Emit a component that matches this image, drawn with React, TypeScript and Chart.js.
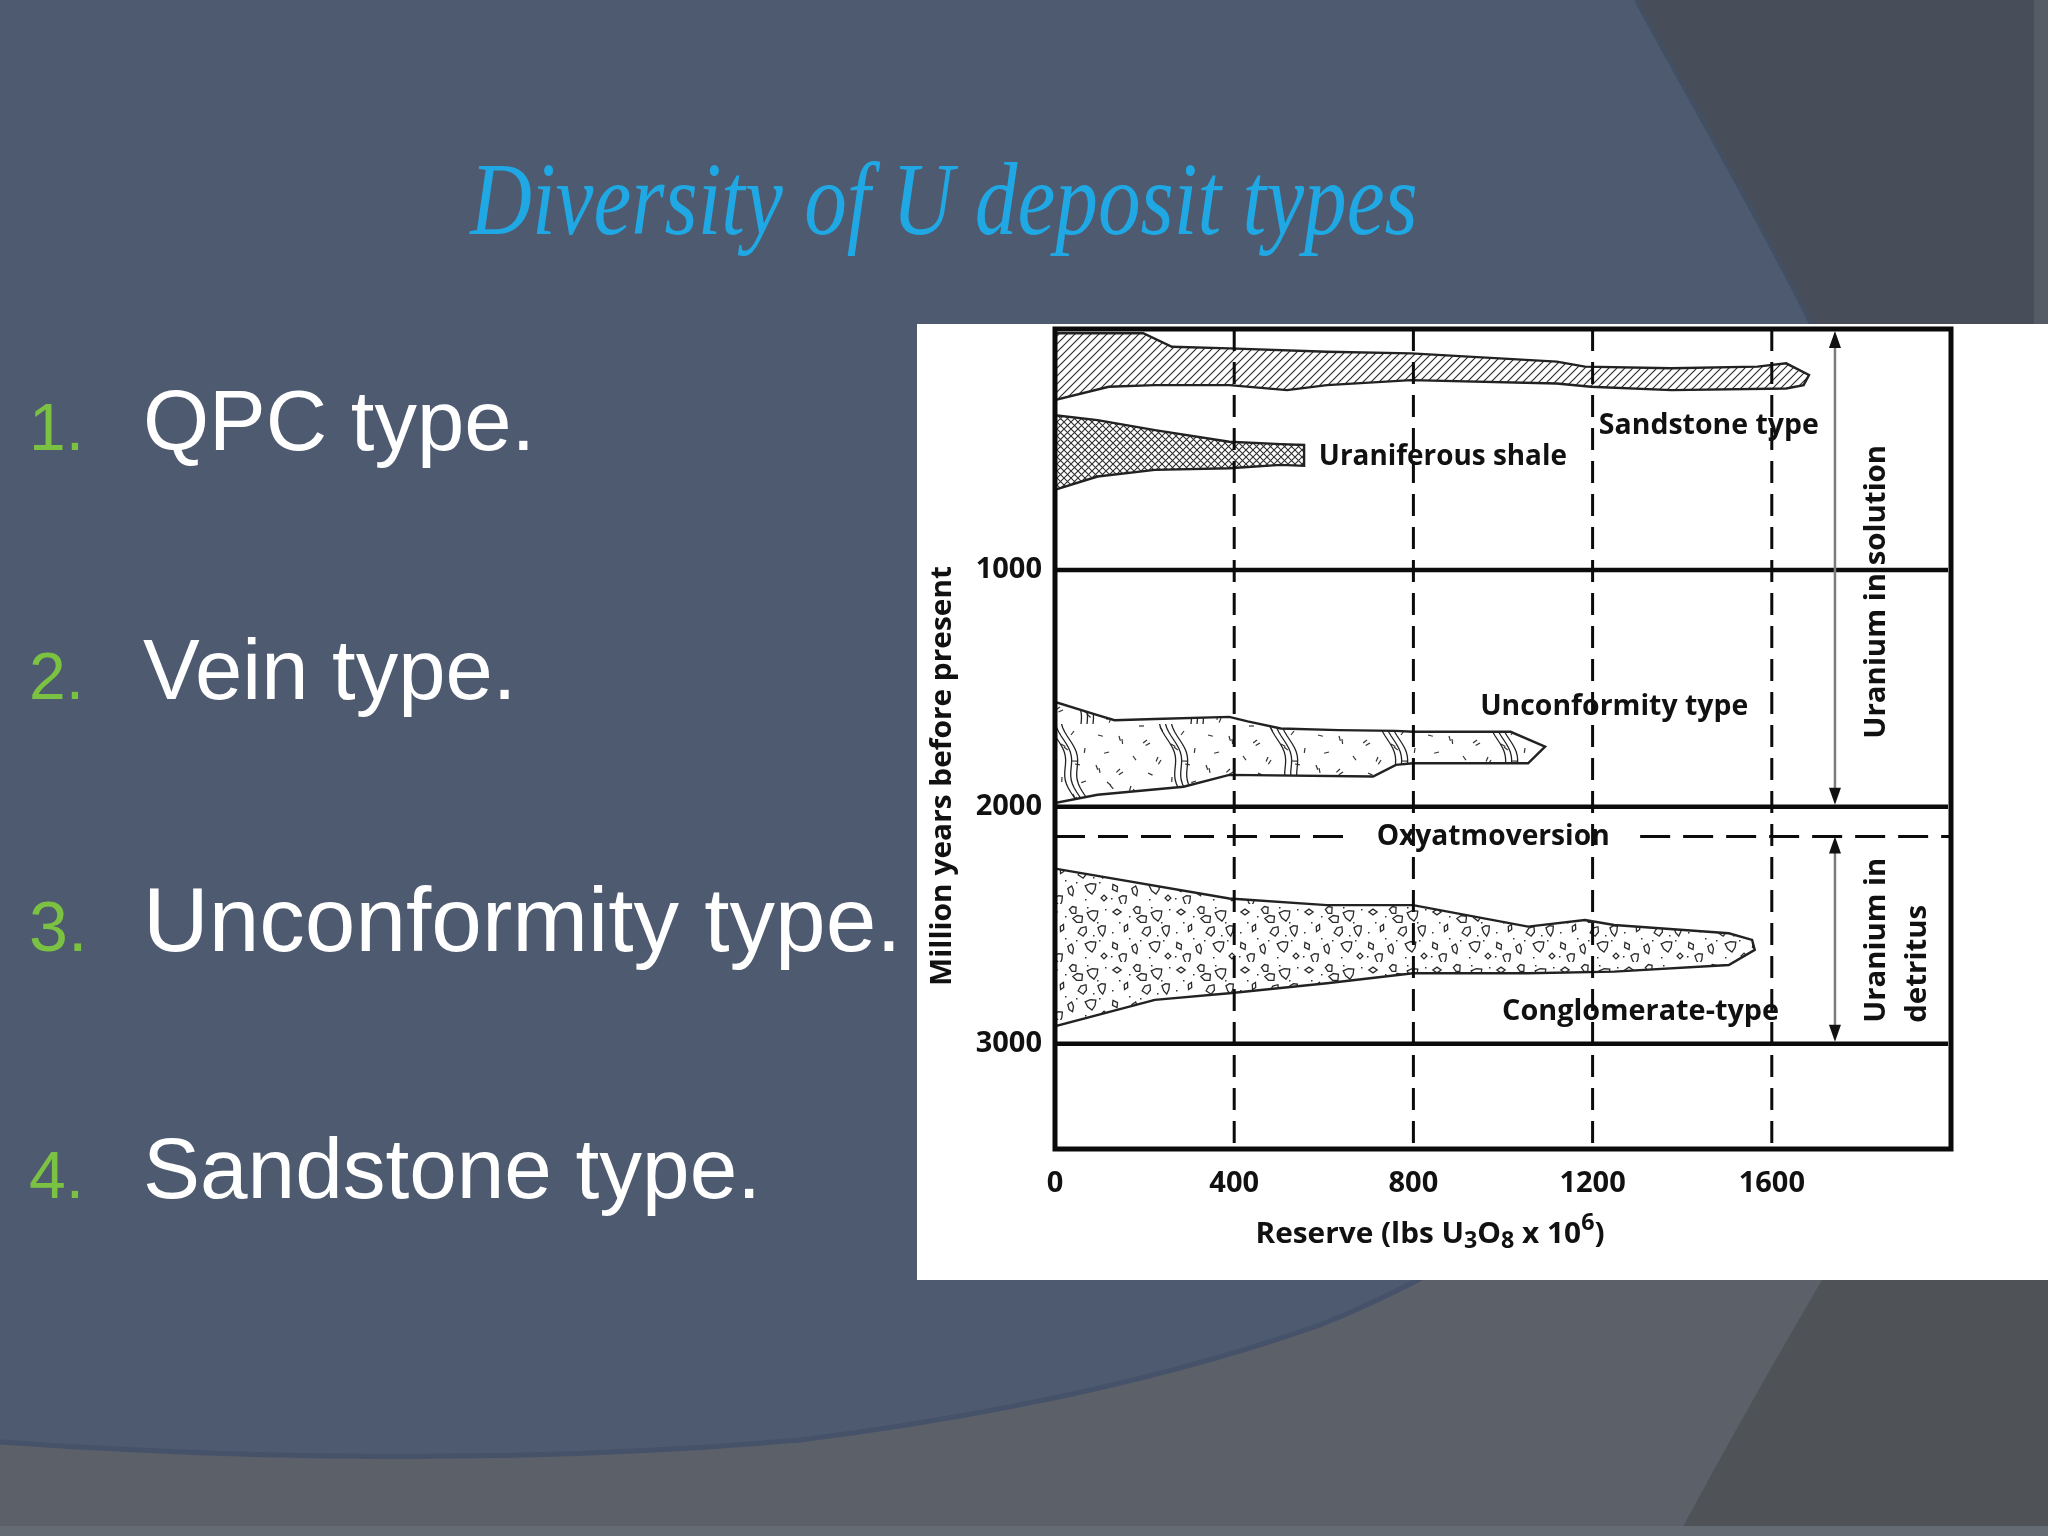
import React, { useEffect, useRef } from 'react';
import { Chart, registerables } from 'chart.js';

Chart.register(...registerables);

// ---------------- axes ----------------
const reserveTicks = [0, 400, 800, 1200, 1600];
const ageTicks = [1000, 2000, 3000];
const reserveMax = 2000;
const ageMin = -18;
const ageMax = 3445;
const oxyatmoversionAge = 2125;
const arrowReserve = 1741;
const solutionSpan = [0, 2000];
const detritusSpan = [2125, 3000];

// ---------------- deposit outlines (reserve 10^6 lbs U3O8, age Ma) ----------------
const sandstoneReserve = [0, 197, 261, 389, 607, 795, 1120, 1183, 1376, 1568, 1632, 1683, 1671, 1632, 1376, 1196, 1120, 795, 607, 518, 389, 223, 120, 0];
const sandstoneAge = [0, 0, 57, 64, 78, 85, 120, 141, 148, 141, 127, 176, 219, 233, 240, 226, 212, 198, 219, 240, 219, 219, 226, 282];

const shaleReserve = [0, 95, 223, 389, 504, 556, 556, 504, 389, 223, 95, 0];
const shaleAge = [346, 367, 409, 458, 468, 472, 560, 556, 570, 577, 605, 661];

const unconformityReserve = [0, 95, 133, 223, 389, 430, 504, 633, 761, 799, 1017, 1094, 1056, 799, 761, 710, 389, 287, 95, 0];
const unconformityAge = [1557, 1613, 1634, 1629, 1620, 1639, 1669, 1676, 1679, 1683, 1683, 1746, 1816, 1816, 1823, 1872, 1865, 1915, 1949, 1984];

const conglomerateReserve = [0, 389, 607, 799, 1056, 1183, 1248, 1504, 1556, 1562, 1504, 1248, 1056, 799, 607, 389, 223, 0];
const conglomerateAge = [2261, 2387, 2415, 2415, 2506, 2478, 2499, 2534, 2562, 2604, 2668, 2696, 2703, 2703, 2745, 2787, 2815, 2927];

const depositNames = ['Sandstone type', 'Uraniferous shale', 'Unconformity type', 'Conglomerate-type'];

// ---------------- slide text ----------------
const slideTitle = 'Diversity of U deposit types';
const listItems = ['QPC type.', 'Vein type.', 'Unconformity type.', 'Sandstone type.'];
const yAxisTitle = 'Million years before present';
const oxyLabel = 'Oxyatmoversion';
const solutionLabel = 'Uranium in solution';
const detritusLabel = ['Uranium in', 'detritus'];

// annotation anchors (data units) and target text widths (px)
const depositLabelLayout = [
  { x: 1214, y: 392, w: 220 },
  { x: 589, y: 522, w: 248 },
  { x: 949, y: 1579, w: 268 },
  { x: 998, y: 2866, w: 277 },
];

const FONT = '"Open Sans", "DejaVu Sans", sans-serif';

function makePattern(kind: string): CanvasPattern | string {
  const c = document.createElement('canvas');
  const g = c.getContext('2d');
  if (!g) return '#fff';
  if (kind === 'hatch') {
    c.width = 8; c.height = 8;
    g.fillStyle = '#fff'; g.fillRect(0, 0, 8, 8);
    g.strokeStyle = '#2e2e2e'; g.lineWidth = 1.2;
    g.beginPath();
    g.moveTo(-1, 9); g.lineTo(9, -1);
    g.moveTo(-1, 1); g.lineTo(1, -1);
    g.moveTo(7, 9); g.lineTo(9, 7);
    g.stroke();
  } else if (kind === 'cross') {
    c.width = 7; c.height = 7;
    g.fillStyle = '#fff'; g.fillRect(0, 0, 7, 7);
    g.strokeStyle = '#2e2e2e'; g.lineWidth = 1.1;
    g.beginPath();
    g.moveTo(-1, 8); g.lineTo(8, -1);
    g.moveTo(-1, -1); g.lineTo(8, 8);
    g.stroke();
  } else if (kind === 'vein') {
    c.width = 110; c.height = 100;
    g.fillStyle = '#fff'; g.fillRect(0, 0, 110, 100);
    g.strokeStyle = '#333'; g.lineWidth = 1.2;
    for (let i = 0; i < 42; i++) {
      const px = (i * 47) % 106 + 2;
      const py = (i * 71) % 96 + 2;
      const ang = ((i * 73) % 180) * Math.PI / 180;
      g.beginPath();
      g.moveTo(px, py);
      g.lineTo(px + Math.cos(ang) * 5, py + Math.sin(ang) * 5);
      g.stroke();
    }
    g.lineWidth = 1.3; g.strokeStyle = '#222';
    for (let k = 0; k < 3; k++) {
      g.beginPath();
      for (let t = 0; t <= 100; t += 4) {
        const px = 26 + k * 6 + (100 - t) * 0.28 + Math.sin(t / 9) * 3.5;
        if (t === 0) g.moveTo(px, 100 - t); else g.lineTo(px, 100 - t);
      }
      g.stroke();
    }
  } else {
    c.width = 64; c.height = 58;
    g.fillStyle = '#fff'; g.fillRect(0, 0, 64, 58);
    g.strokeStyle = '#2a2a2a'; g.lineWidth = 1.3;
    const centers = [[8, 8], [28, 6], [48, 11], [17, 24], [38, 27], [57, 26], [6, 42], [26, 45], [46, 42], [59, 52], [33, 15], [14, 54]];
    centers.forEach(([cx, cy], i) => {
      const r = 3.6 + (i % 3) * 0.9;
      const n = 4 + (i % 3);
      g.beginPath();
      for (let j = 0; j < n; j++) {
        const a = (j / n) * Math.PI * 2 + i * 0.7;
        const rr = r * (j % 2 === 0 ? 1.15 : 0.8);
        const px = cx + Math.cos(a) * rr * (i % 2 ? 0.7 : 1);
        const py = cy + Math.sin(a) * rr;
        if (j === 0) g.moveTo(px, py); else g.lineTo(px, py);
      }
      g.closePath();
      g.stroke();
    });
    g.fillStyle = '#333';
    const dots = [[20, 12], [42, 3], [54, 36], [3, 28], [31, 36], [52, 18], [20, 34], [40, 53], [10, 18], [60, 5], [2, 52], [48, 31]];
    dots.forEach(([px, py]) => g.fillRect(px, py, 1.5, 1.5));
  }
  const p = g.createPattern(c, 'repeat');
  return p || '#fff';
}

function fitText(ctx: CanvasRenderingContext2D, text: string, x: number, y: number, size: number, width: number, rotate = 0, align: CanvasTextAlign = 'left') {
  ctx.save();
  ctx.translate(x, y);
  if (rotate) ctx.rotate(rotate);
  ctx.font = `bold ${size}px ${FONT}`;
  const w = ctx.measureText(text).width;
  ctx.scale(width / w, 1);
  ctx.textAlign = align;
  ctx.textBaseline = 'middle';
  ctx.fillStyle = '#111';
  ctx.fillText(text, 0, 0);
  ctx.restore();
}

function arrowHead(ctx: CanvasRenderingContext2D, x: number, y: number, dir: number) {
  ctx.beginPath();
  ctx.moveTo(x, y);
  ctx.lineTo(x - 6, y - dir * 17);
  ctx.lineTo(x + 6, y - dir * 17);
  ctx.closePath();
  ctx.fill();
}

const decorPlugin = {
  id: 'decor',
  afterDatasetsDraw(chart: any) {
    const { ctx, chartArea: a, scales } = chart;
    const x = scales.x;
    const y = scales.y;
    ctx.save();
    const seg = (x1: number, y1: number, x2: number, y2: number) => {
      ctx.beginPath(); ctx.moveTo(x1, y1); ctx.lineTo(x2, y2); ctx.stroke();
    };
    // era boundaries
    ctx.strokeStyle = '#0b0b0b';
    ctx.lineWidth = 4.5;
    ctx.setLineDash([]);
    ageTicks.forEach(v => { const py = y.getPixelForValue(v); seg(a.left, py, a.right - 3, py); });
    // reserve grid
    ctx.lineWidth = 3;
    ctx.setLineDash([22, 11]);
    reserveTicks.filter(v => v > 0).forEach(v => { const px = x.getPixelForValue(v); seg(px, a.top, px, a.bottom); });
    // oxyatmoversion
    const oy = y.getPixelForValue(oxyatmoversionAge);
    const oxCenter = x.getPixelForValue(978);
    const gap = 147;
    ctx.setLineDash([30, 13]);
    seg(a.left, oy, oxCenter - gap, oy);
    seg(oxCenter + gap, oy, a.right, oy);
    ctx.setLineDash([]);
    fitText(ctx, oxyLabel, oxCenter, oy, 29, 233, 0, 'center');
    // frame
    ctx.lineWidth = 5;
    ctx.strokeStyle = '#0b0b0b';
    ctx.strokeRect(a.left, a.top, a.right - a.left, a.bottom - a.top);
    // arrows
    const ax = x.getPixelForValue(arrowReserve);
    ctx.strokeStyle = '#7c7c7c';
    ctx.fillStyle = '#111';
    ctx.lineWidth = 2.5;
    [solutionSpan, detritusSpan].forEach(([s, e]) => {
      const ys = s <= 0 ? a.top + 2 : y.getPixelForValue(s);
      const ye = y.getPixelForValue(e) - 2;
      seg(ax, ys + 8, ax, ye - 8);
      arrowHead(ctx, ax, ys, -1);
      arrowHead(ctx, ax, ye, 1);
    });
    // deposit labels
    depositNames.forEach((name, i) => {
      const L = depositLabelLayout[i];
      fitText(ctx, name, x.getPixelForValue(L.x), y.getPixelForValue(L.y), 29, L.w);
    });
    // side labels
    fitText(ctx, solutionLabel, x.getPixelForValue(1835), y.getPixelForValue(1092), 29, 294, -Math.PI / 2, 'center');
    fitText(ctx, detritusLabel[0], x.getPixelForValue(1835), y.getPixelForValue(2912), 29, 165, -Math.PI / 2, 'left');
    fitText(ctx, detritusLabel[1], x.getPixelForValue(1926), y.getPixelForValue(2912), 29, 118, -Math.PI / 2, 'left');
    // y axis title
    fitText(ctx, yAxisTitle, a.left - 112, a.top + 447, 29, 420, -Math.PI / 2, 'center');
    // x axis title with sub/superscripts
    const parts: [string, number][] = [['Reserve (lbs U', 0], ['3', 1], ['O', 0], ['8', 1], [' x 10', 0], ['6', -1], [')', 0]];
    const base = 29;
    let total = 0;
    parts.forEach(([t, k]) => { ctx.font = `bold ${k ? base * 0.78 : base}px ${FONT}`; total += ctx.measureText(t).width; });
    const targetW = 349;
    const sx = targetW / total;
    ctx.save();
    ctx.translate(a.left + 375 - targetW / 2, a.bottom + 86);
    ctx.scale(sx, 1);
    ctx.fillStyle = '#111';
    ctx.textBaseline = 'middle';
    ctx.textAlign = 'left';
    let cx = 0;
    parts.forEach(([t, k]) => {
      ctx.font = `bold ${k ? base * 0.78 : base}px ${FONT}`;
      ctx.fillText(t, cx, k === 1 ? 7 : k === -1 ? -11 : 0);
      cx += ctx.measureText(t).width;
    });
    ctx.restore();
    ctx.restore();
  },
};

function DepositChart() {
  const ref = useRef<HTMLCanvasElement | null>(null);
  useEffect(() => {
    if (!ref.current) return;
    const patterns = ['hatch', 'cross', 'vein', 'pebble'].map(makePattern);
    const outlines = [
      [sandstoneReserve, sandstoneAge],
      [shaleReserve, shaleAge],
      [unconformityReserve, unconformityAge],
      [conglomerateReserve, conglomerateAge],
    ];
    const datasets = outlines.map(([rx, ay], i) => {
      const pts = rx.map((v, j) => ({ x: v, y: ay[j] }));
      pts.push({ x: rx[0], y: ay[0] });
      return {
        label: depositNames[i],
        data: pts,
        borderColor: '#222',
        borderWidth: 2.4,
        backgroundColor: patterns[i],
        fill: 'shape',
        pointRadius: 0,
        tension: 0,
      };
    });
    const chart = new Chart(ref.current, {
      type: 'line',
      data: { datasets: datasets as any },
      options: {
        animation: false,
        responsive: false,
        layout: { padding: { top: 5, right: 97, left: 0, bottom: 0 } },
        plugins: { legend: { display: false }, tooltip: { enabled: false } },
        scales: {
          x: {
            type: 'linear',
            min: 0,
            max: reserveMax,
            afterBuildTicks: (s: any) => { s.ticks = reserveTicks.map(v => ({ value: v })); },
            afterFit: (s: any) => { s.height = 131; s.paddingLeft = 0; s.paddingRight = 0; },
            grid: { display: false, drawTicks: false },
            border: { display: false },
            ticks: { color: '#111', font: { family: FONT, size: 29, weight: 'bold' }, padding: 17, maxRotation: 0, autoSkip: false, callback: (v: any) => String(v) },
          },
          y: {
            type: 'linear',
            reverse: true,
            min: ageMin,
            max: ageMax,
            afterBuildTicks: (s: any) => { s.ticks = ageTicks.map(v => ({ value: v })); },
            afterFit: (s: any) => { s.width = 138; s.paddingTop = 0; s.paddingBottom = 0; },
            grid: { display: false, drawTicks: false },
            border: { display: false },
            ticks: { color: '#111', font: { family: FONT, size: 29, weight: 'bold' }, padding: 13, autoSkip: false, callback: (v: any) => String(v) },
          },
        },
      } as any,
      plugins: [decorPlugin],
    });
    return () => chart.destroy();
  }, []);
  return <canvas ref={ref} width={1131} height={956} style={{ width: 1131, height: 956, display: 'block' }} />;
}

const itemBaselines = [450, 699, 951, 1198];
const itemSizes = [85, 85, 91, 85.5];
const numSizes = [66, 66, 70, 66];

export default function App() {
  return (
    <div style={{ position: 'absolute', left: 0, top: 0, width: 2048, height: 1536, overflow: 'hidden', background: '#4e5a6f' }}>
      <svg width={2048} height={1536} style={{ position: 'absolute', left: 0, top: 0 }}>
        <path d="M1636,0 C1690,100 1760,220 1811,324 L1900,520 L2048,520 L2048,0 Z" fill="#474e59" />
        <path d="M1636,0 C1690,100 1760,220 1811,324" stroke="#435064" strokeWidth={4} fill="none" />
        <rect x={2034} y={0} width={14} height={330} fill="#555b64" />
        <path d="M0,1442 Q430,1472 800,1440 Q1100,1402 1320,1325 Q1470,1265 1620,1150 L2048,1100 L2048,1536 L0,1536 Z" fill="#5c6069" />
        <path d="M0,1442 Q430,1472 800,1440 Q1100,1402 1320,1325 Q1470,1265 1620,1150" stroke="#465269" strokeWidth={5} fill="none" />
        <path d="M1822,1280 L2048,1280 L2048,1536 L1678,1536 Q1740,1420 1822,1280 Z" fill="#4f5358" />
        <rect x={0} y={1526} width={2048} height={10} fill="#656b73" />
      </svg>
      <div style={{ position: 'absolute', left: 344, top: 147, width: 1200, textAlign: 'center', fontFamily: '"Liberation Serif", serif', fontStyle: 'italic', fontSize: 104, lineHeight: '104px', color: '#1fa8e3', transform: 'scaleX(0.82)', whiteSpace: 'nowrap' }}>
        {slideTitle}
      </div>
      {listItems.map((t, i) => (
        <React.Fragment key={i}>
          <span style={{ position: 'absolute', left: 29, top: itemBaselines[i] - 0.8465 * numSizes[i], fontFamily: '"Liberation Sans", Arial, sans-serif', fontSize: numSizes[i], lineHeight: `${numSizes[i]}px`, color: '#7cc242', whiteSpace: 'nowrap' }}>
            {`${i + 1}.`}
          </span>
          <span style={{ position: 'absolute', left: 143, top: itemBaselines[i] - 0.8465 * itemSizes[i], fontFamily: '"Liberation Sans", Arial, sans-serif', fontSize: itemSizes[i], lineHeight: `${itemSizes[i]}px`, color: '#ffffff', whiteSpace: 'nowrap' }}>
            {t}
          </span>
        </React.Fragment>
      ))}
      <div style={{ position: 'absolute', left: 917, top: 324, width: 1131, height: 956, background: '#ffffff' }}>
        <DepositChart />
      </div>
    </div>
  );
}
